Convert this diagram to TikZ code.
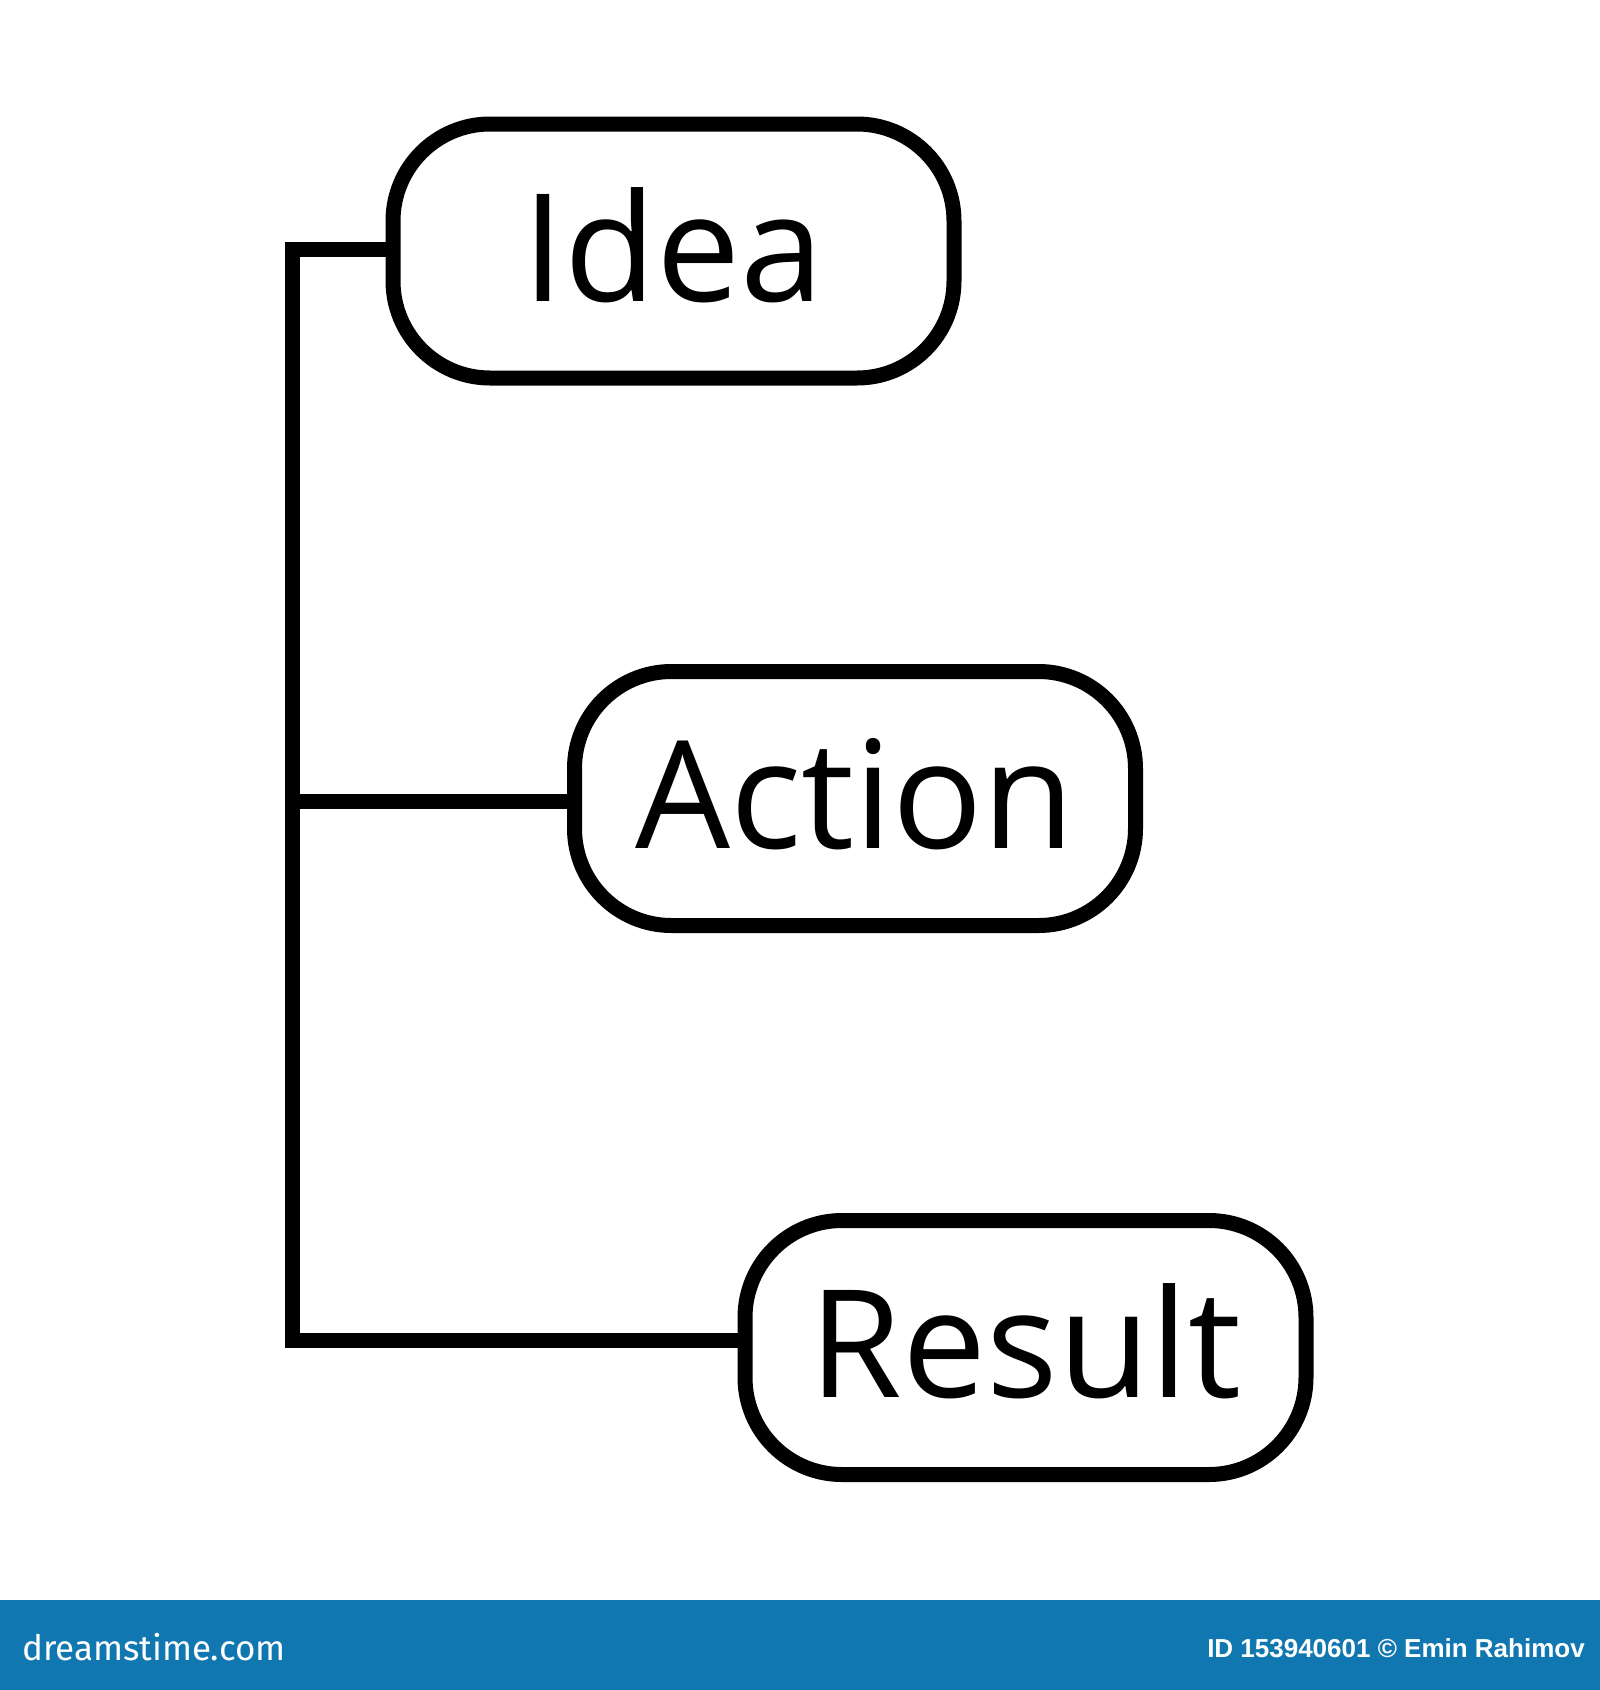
\documentclass[tikz,border=0pt]{standalone}
\usepackage{fontspec}
\setmainfont{Open Sans}
\newfontfamily\footfont{Liberation Sans}
\newfontfamily\logofont{Fira Sans}
\definecolor{barblue}{RGB}{17,119,176}
\tikzset{
  pill/.style={draw=black, line width=15pt, rectangle, rounded corners=97pt,
    minimum width=561pt, minimum height=254pt, inner sep=0pt, outer sep=0pt,
    font=\fontsize{150}{150}\selectfont, text height=100pt, text depth=0pt},
  conn/.style={draw=black, line width=15pt, line join=miter}
}
\begin{document}
\begin{tikzpicture}[x=1pt,y=-1pt]
\useasboundingbox (0,0) rectangle (1600,1690);
\fill[white] (0,0) rectangle (1600,1690);
\fill[barblue] (0,1600) rectangle (1600,1690);
\node[pill] (idea) at (673.5,251) {Idea};
\node[pill] (action) at (855,798.5) {Action};
\node[pill] (result) at (1025.5,1347.5) {Result};
\coordinate (top) at (292,249);
\coordinate (bot) at (292,1340);
\draw[conn] ([yshift=2pt]idea.west) -- (top) -- (bot) -- ([yshift=7.5pt]result.west);
\draw[conn] ([yshift=-2.5pt]action.west) -- ([yshift=-2.5pt]action.west -| top);
\node[anchor=base west, text=white, inner sep=0pt, font=\logofont\fontsize{35}{35}\selectfont] (logo) at (22,1660) {dreamstime.com};
\node[anchor=base east, text=white, inner sep=0pt, font=\footfont\bfseries\fontsize{26}{26}\selectfont] (credit) at (1585,1657) {ID 153940601 © Emin Rahimov};
\end{tikzpicture}
\end{document}
